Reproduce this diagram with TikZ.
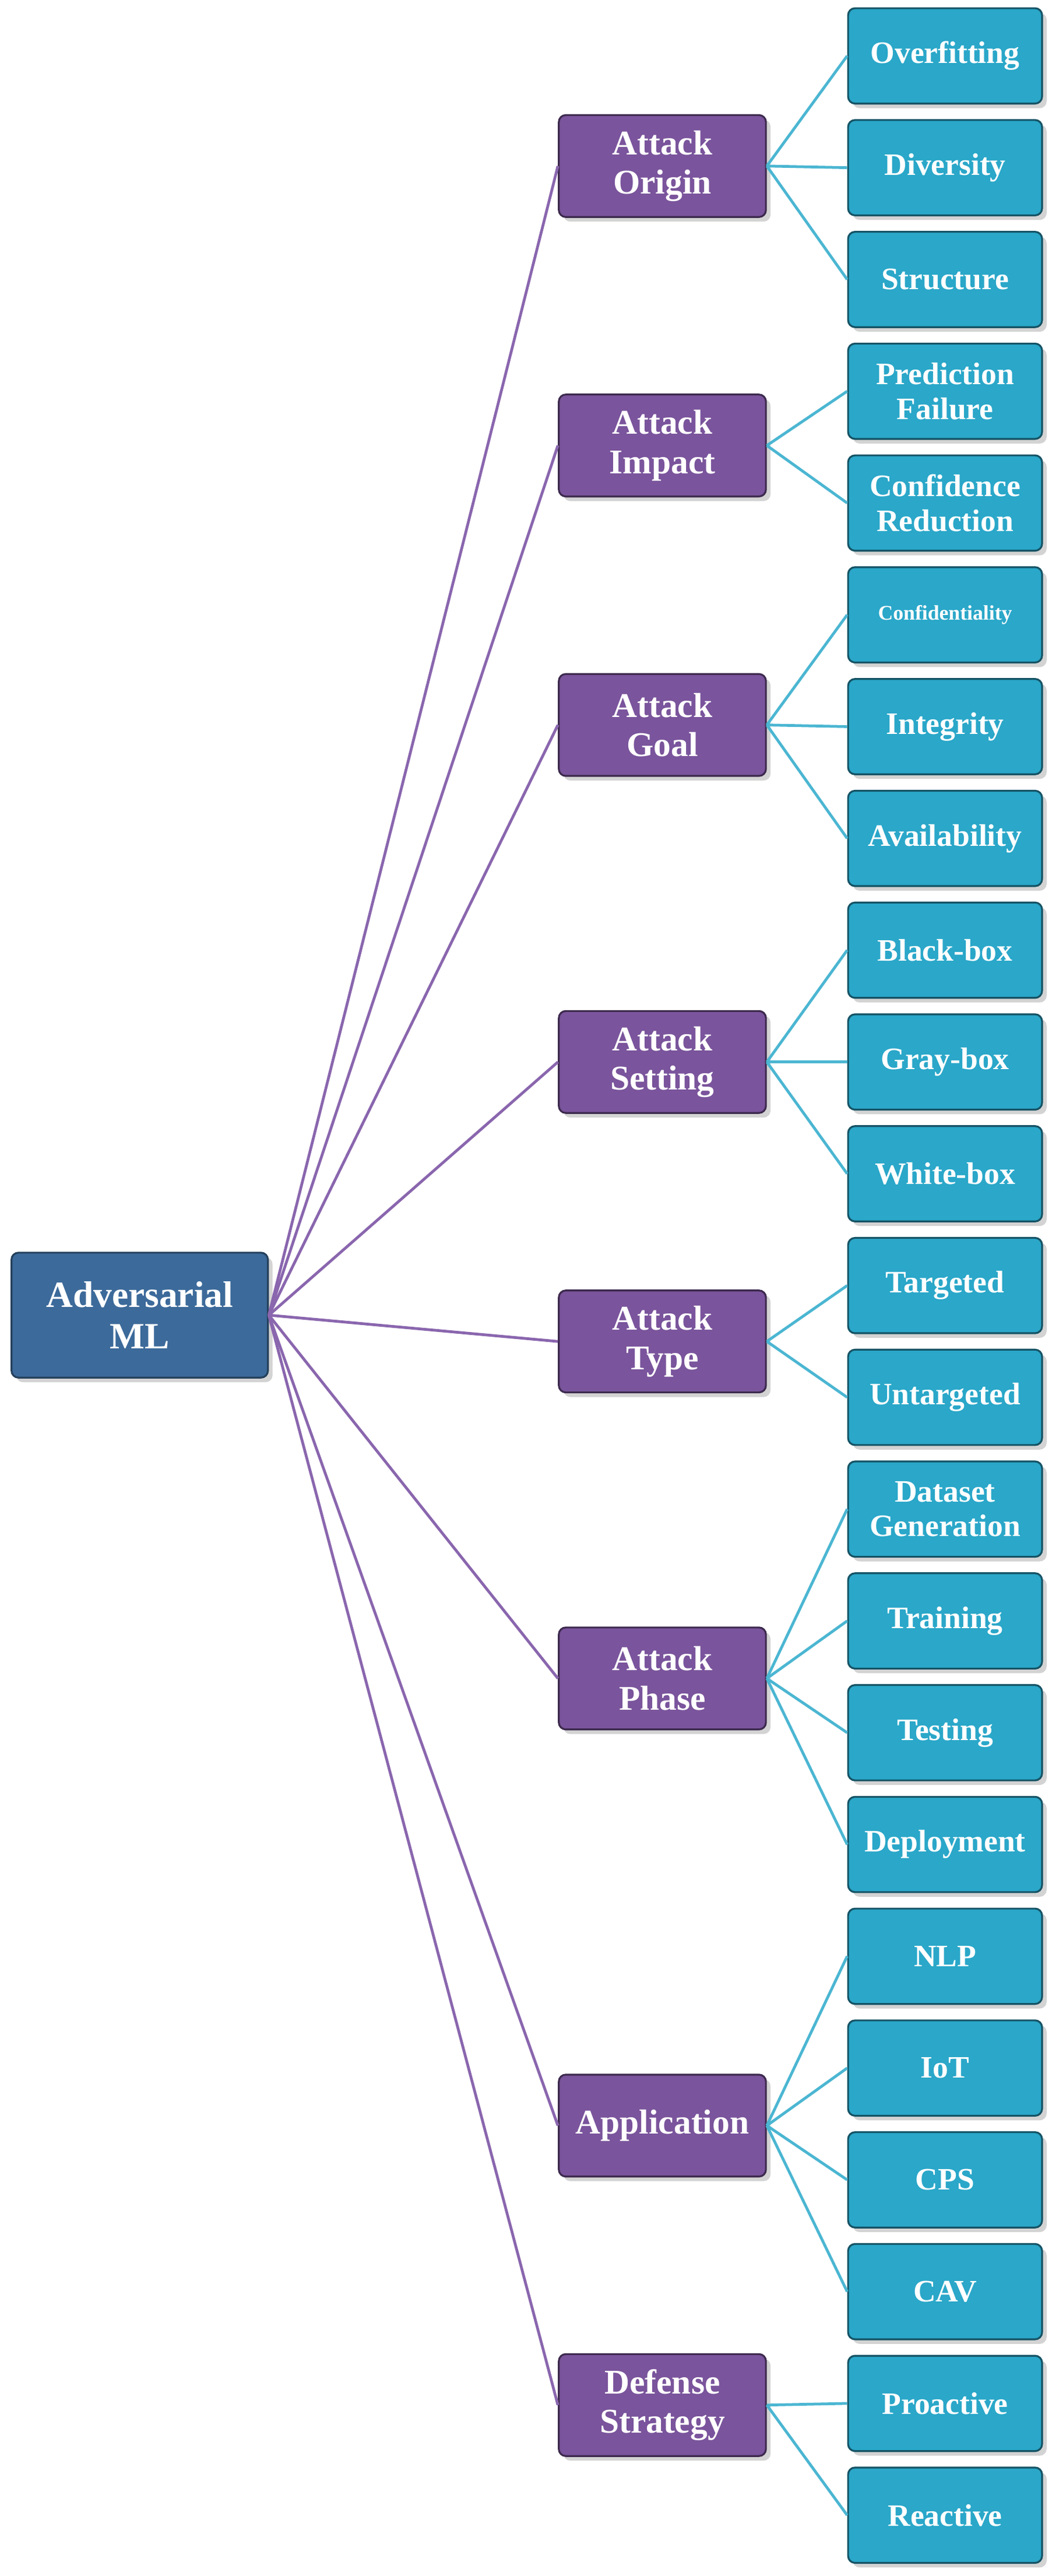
\documentclass[tikz,border=0pt]{standalone}
\usepackage{tikz}
\usetikzlibrary{shadows}
\usepackage{fontspec}
\setmainfont{Liberation Serif}

\definecolor{rootblue}{HTML}{3C6A9A}
\definecolor{midpurple}{HTML}{7A549C}
\definecolor{leafcyan}{HTML}{2AA7C9}
\definecolor{purpleline}{HTML}{8A66AE}
\definecolor{cyanline}{HTML}{4BB6D2}

\begin{document}
\begin{tikzpicture}[
            x = 0.25mm, y = -0.25mm,
            box/.style = {draw, rounded corners=3pt, line width=0.8pt, text=white,
                          font=\bfseries, align=center, inner sep=1pt,
                          drop shadow={shadow xshift=2pt, shadow yshift=-2pt, opacity=0.35}},
            root/.style = {box, fill=rootblue, draw=rootblue!60!black,
                           minimum width=39mm, minimum height=19mm, font=\bfseries\fontsize{16}{18}\selectfont},
            mid/.style = {box, fill=midpurple, draw=midpurple!50!black,
                          minimum width=31.5mm, minimum height=15.5mm, font=\bfseries\fontsize{15}{17}\selectfont},
            leaf/.style = {box, fill=leafcyan, draw=leafcyan!50!black,
                           minimum width=29.5mm, minimum height=14.5mm, font=\bfseries\fontsize{13.5}{15}\selectfont},
            pl/.style = {draw=purpleline, line width=1.2pt},
            cl/.style = {draw=cyanline, line width=1.2pt}
        ]
        \useasboundingbox (0,0) rectangle (640,1567);

        % root
        \node[root] (adv) at (85,800) {Adversarial\\ML};

        % second level
        \node[mid] (origin)  at (403,101)  {Attack\\Origin};
        \node[mid] (impact)  at (403,271)  {Attack\\Impact};
        \node[mid] (goal)    at (403,441)  {Attack\\Goal};
        \node[mid] (setting) at (403,646)  {Attack\\Setting};
        \node[mid] (type)    at (403,816)  {Attack\\Type};
        \node[mid] (phase)   at (403,1021) {Attack\\Phase};
        \node[mid] (app)     at (403,1293) {Application};
        \node[mid] (defense) at (403,1463) {Defense\\Strategy};

        % leaves
        \node[leaf] (overfit)  at (575,34)   {Overfitting};
        \node[leaf] (divers)   at (575,102)  {Diversity};
        \node[leaf] (struct)   at (575,170)  {Structure};
        \node[leaf] (predfail) at (575,238)  {Prediction\\Failure};
        \node[leaf] (confred)  at (575,306)  {Confidence\\Reduction};
        \node[leaf, font=\bfseries\fontsize{9}{10}\selectfont] (confid) at (575,374) {Confidentiality};
        \node[leaf] (integ)    at (575,442)  {Integrity};
        \node[leaf] (avail)    at (575,510)  {Availability};
        \node[leaf] (blackbox) at (575,578)  {Black-box};
        \node[leaf] (graybox)  at (575,646)  {Gray-box};
        \node[leaf] (whitebox) at (575,714)  {White-box};
        \node[leaf] (target)   at (575,782)  {Targeted};
        \node[leaf] (untarget) at (575,850)  {Untargeted};
        \node[leaf] (dataset)  at (575,918)  {Dataset\\Generation};
        \node[leaf] (train)    at (575,986)  {Training};
        \node[leaf] (test)     at (575,1054) {Testing};
        \node[leaf] (deploy)   at (575,1122) {Deployment};
        \node[leaf] (nlp)      at (575,1190) {NLP};
        \node[leaf] (iot)      at (575,1258) {IoT};
        \node[leaf] (cps)      at (575,1326) {CPS};
        \node[leaf] (cav)      at (575,1394) {CAV};
        \node[leaf] (proact)   at (575,1462) {Proactive};
        \node[leaf] (react)    at (575,1530) {Reactive};

        % root to second level
        \foreach \m in {origin,impact,goal,setting,type,phase,app,defense}
            \path[pl] (adv.east) -- (\m.west);

        % second level to leaves
        \foreach \m/\l in {origin/overfit, origin/divers, origin/struct,
                           impact/predfail, impact/confred,
                           goal/confid, goal/integ, goal/avail,
                           setting/blackbox, setting/graybox, setting/whitebox,
                           type/target, type/untarget,
                           phase/dataset, phase/train, phase/test, phase/deploy,
                           app/nlp, app/iot, app/cps, app/cav,
                           defense/proact, defense/react}
            \path[cl] (\m.east) -- (\l.west);
\end{tikzpicture}
\end{document}
